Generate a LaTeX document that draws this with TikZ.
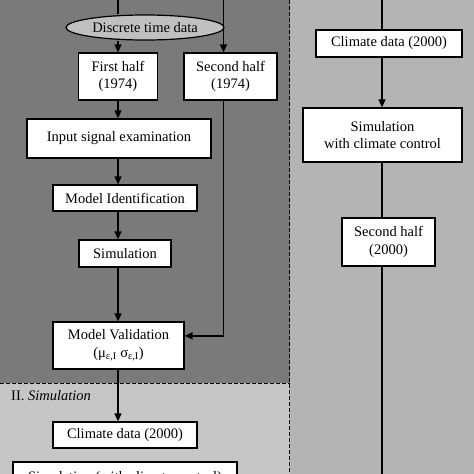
\documentclass[tikz,border=0pt]{standalone}
\usepackage{fontspec}
\setmainfont{Liberation Serif}
\usetikzlibrary{arrows.meta,shapes.geometric,calc}
\definecolor{darkbg}{RGB}{122,122,122}
\definecolor{lowbg}{RGB}{198,198,198}
\definecolor{rightbg}{RGB}{180,180,180}
\definecolor{ellfill}{RGB}{192,192,192}
\tikzset{
  box/.style={draw=black, fill=white, line width=1.2pt, inner sep=0pt, align=center,
    font=\fontsize{14.5}{17.5}\selectfont},
  arr/.style={line width=1.4pt, -{Triangle[length=8pt,width=7pt]}},
  ln/.style={line width=1.4pt},
  sep/.style={line width=1pt, dash pattern=on 4pt off 2pt},
}
\begin{document}
\begin{tikzpicture}[x=1pt,y=-1pt]
\useasboundingbox (0,0) rectangle (474,474);
\clip (0,0) rectangle (474,474);
% backgrounds
\fill[rightbg] (0,0) rectangle (474,474);
\fill[lowbg] (0,383) rectangle (289.5,474);
\fill[darkbg] (0,0) rectangle (289.5,383);
\draw[sep] (289.5,0) -- (289.5,474);
\draw[sep] (0,383) -- (289.5,383);
\node[font=\fontsize{14.5}{17.5}\selectfont, anchor=base west, inner sep=0pt] (lbl) at (11,400) {II. \textit{Simulation}};
% left column
\coordinate (top1) at (118,0);
\coordinate (top2) at (223.5,0);
\node[ellipse, draw=black, fill=ellfill, line width=1.2pt, inner sep=0pt, minimum width=158pt, minimum height=25pt,
  font=\fontsize{14.5}{17.5}\selectfont] (ell) at (145,27.5) {Discrete time data};
\node[box, minimum width=79pt, minimum height=47pt] (fh) at (118,76.5) {First half\\(1974)};
\node[box, minimum width=93pt, minimum height=47pt] (sh) at (230.5,76.5) {Second half\\(1974)};
\node[box, minimum width=184pt, minimum height=39pt] (ise) at (119,138.5) {Input signal examination};
\node[box, minimum width=144pt, minimum height=26pt] (mi) at (125,198) {Model Identification};
\node[box, minimum width=92pt, minimum height=27pt] (sim) at (125,253.5) {Simulation};
\node[box, minimum width=131pt, minimum height=47pt] (mv) at (118.5,345.5) {Model Validation\\(μ\textsubscript{ε,I} σ\textsubscript{ε,I})};
\node[box, minimum width=144pt, minimum height=26pt] (cdl) at (125,435) {Climate data (2000)};
\node[box, minimum width=224pt, minimum height=32pt] (swc) at (125,478) {Simulation (with climate control)};
\draw[ln] (top1) -- (top1 |- ell.north);
\draw[arr] (top1 |- ell.south) -- (fh.north);
\draw[arr] (top2) -- (top2 |- sh.north);
\draw[arr] (fh.south) -- (fh.south |- ise.north);
\draw[arr] (fh.south |- ise.south) -- (fh.south |- mi.north);
\draw[arr] (fh.south |- mi.south) -- (fh.south |- sim.north);
\draw[arr] (fh.south |- sim.south) -- (fh.south |- mv.north);
\draw[arr] (top2 |- sh.south) |- ($(mv.north east)!0.3!(mv.south east)$);
\draw[arr] (fh.south |- mv.south) -- (fh.south |- cdl.north);
% right column
\coordinate (top3) at (382,0);
\coordinate (bot3) at (382,474);
\node[box, minimum width=146pt, minimum height=27pt] (cdr) at (389,43.5) {Climate data (2000)};
\node[box, minimum width=159pt, minimum height=54pt] (swcr) at (382.5,135) {Simulation\\with climate control};
\node[box, minimum width=93pt, minimum height=48pt] (shr) at (388.5,242) {Second half\\(2000)};
\draw[ln] (top3) -- (top3 |- cdr.north);
\draw[arr] (top3 |- cdr.south) -- (top3 |- swcr.north);
\draw[ln] (top3 |- swcr.south) -- (top3 |- shr.north);
\draw[ln] (top3 |- shr.south) -- (bot3);
\end{tikzpicture}
\end{document}
